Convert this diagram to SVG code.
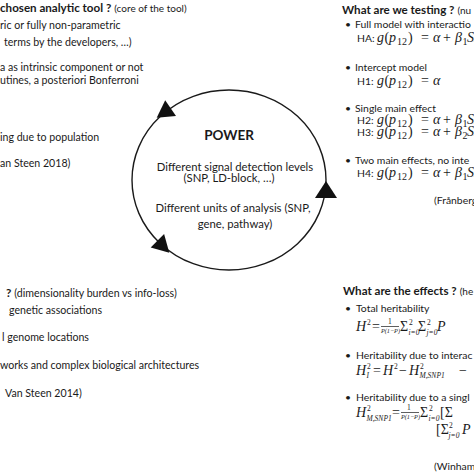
<svg xmlns="http://www.w3.org/2000/svg" width="474" height="474" viewBox="0 0 474 474">
<style>
text{fill:#1a1a1a}
.t{font-family:Lato,"Liberation Sans",sans-serif;font-size:10.6px}
.r{font-family:Lato,"Liberation Sans",sans-serif;font-size:10.4px}
.p{font-family:Lato,"Liberation Sans",sans-serif;font-size:11.3px}
.s{font-family:Lato,"Liberation Sans",sans-serif;font-size:10px}
.b{font-family:Lato,"Liberation Sans",sans-serif;font-size:11.6px;font-weight:bold}
.pw{font-family:Lato,"Liberation Sans",sans-serif;font-size:13.5px;font-weight:bold}
.c{text-anchor:middle}
.mi{font-family:"Liberation Serif",serif;font-style:italic;font-size:14px}
.mu{font-family:"Liberation Serif",serif;font-size:14px}
.ms{font-family:"Liberation Serif",serif;font-size:10px}
.mt{font-family:"Liberation Serif",serif;font-style:italic;font-size:7.5px}
.fr{font-family:"Liberation Serif",serif;font-size:7.5px}
.fd{font-family:"Liberation Serif",serif;font-style:italic;font-size:6.2px}
.ln{stroke:#1a1a1a;stroke-width:1.4;fill:none}
.ah{fill:#111;stroke:none}
.bar{stroke:#1a1a1a;stroke-width:0.7}
</style>
<rect width="474" height="474" fill="#fff"/>

<g id="connectors">
<ellipse class="ln" cx="229" cy="180" rx="97" ry="90"/>
<polygon class="ah" points="156.7,117.8 165.2,100.3 176,115.9"/>
<polygon class="ah" points="169.3,252.8 150.7,247.4 164.1,234"/>
<polygon class="ah" points="326,181 315,198 337,198"/>
</g>

<g id="node-tool">
<text x="0" y="12"><tspan class="b">chosen analytic tool ?</tspan><tspan class="s" dx="3">(core of the tool)</tspan></text>
<text class="t" x="0" y="28.5">ric or fully non-parametric</text>
<text class="t" x="4" y="45.5">terms by the developers, …)</text>
<text class="t" x="0" y="70.5">a as intrinsic component or not</text>
<text class="t" x="0" y="83.5">utines, a posteriori Bonferroni</text>
<text class="t" x="0" y="140.5">ing due to population</text>
<text class="t" x="0" y="166.5">an Steen 2018)</text>
</g>

<g id="node-power">
<text class="pw c" x="229" y="140">POWER</text>
<text class="p c" x="235" y="170.5">Different signal detection levels</text>
<text class="p c" x="229" y="181.5">(SNP, LD-block, …)</text>
<text class="p c" x="233" y="211.5">Different units of analysis (SNP,</text>
<text class="p c" x="235" y="227.5">gene, pathway)</text>
</g>

<g id="node-testing">
<text x="342" y="14"><tspan class="b">What are we testing ?</tspan><tspan class="s" dx="3">(nu</tspan></text>
<text class="r" x="345" y="28">•</text><text class="r" x="355" y="28">Full model with interactio</text>
<text class="r" x="357" y="41.5">HA:</text>
<text class="mi" x="377" y="41.5">g</text><text class="mu" x="384.5" y="41.5">(</text><text class="mi" x="389" y="41.5">p</text><text class="ms" x="397" y="44.5">12</text><text class="mu" x="408" y="41.5">)</text><text class="mu" x="421" y="41.5">=</text><text class="mi" x="433" y="41.5">α</text><text class="mu" x="443" y="41.5">+</text><text class="mi" x="455" y="41.5">β</text><text class="ms" x="462.5" y="44.5">1</text><text class="mi" x="467" y="41.5">SN</text>

<text class="r" x="345" y="71">•</text><text class="r" x="355" y="71">Intercept model</text>
<text class="r" x="357" y="84.5">H1:</text>
<text class="mi" x="377" y="84.5">g</text><text class="mu" x="384.5" y="84.5">(</text><text class="mi" x="389" y="84.5">p</text><text class="ms" x="397" y="87.5">12</text><text class="mu" x="408" y="84.5">)</text><text class="mu" x="421" y="84.5">=</text><text class="mi" x="433" y="84.5">α</text>

<text class="r" x="345" y="111.5">•</text><text class="r" x="355" y="111.5">Single main effect</text>
<text class="r" x="357" y="123.5">H2:</text>
<text class="mi" x="377" y="123.5">g</text><text class="mu" x="384.5" y="123.5">(</text><text class="mi" x="389" y="123.5">p</text><text class="ms" x="397" y="126.5">12</text><text class="mu" x="408" y="123.5">)</text><text class="mu" x="421" y="123.5">=</text><text class="mi" x="433" y="123.5">α</text><text class="mu" x="443" y="123.5">+</text><text class="mi" x="455" y="123.5">β</text><text class="ms" x="462.5" y="126.5">1</text><text class="mi" x="467" y="123.5">SN</text>
<text class="r" x="357" y="135.5">H3:</text>
<text class="mi" x="377" y="135.5">g</text><text class="mu" x="384.5" y="135.5">(</text><text class="mi" x="389" y="135.5">p</text><text class="ms" x="397" y="138.5">12</text><text class="mu" x="408" y="135.5">)</text><text class="mu" x="421" y="135.5">=</text><text class="mi" x="433" y="135.5">α</text><text class="mu" x="443" y="135.5">+</text><text class="mi" x="455" y="135.5">β</text><text class="ms" x="462.5" y="138.5">2</text><text class="mi" x="467" y="135.5">SN</text>

<text class="r" x="345" y="164">•</text><text class="r" x="355" y="164">Two main effects, no inte</text>
<text class="r" x="357" y="177">H4:</text>
<text class="mi" x="377" y="177">g</text><text class="mu" x="384.5" y="177">(</text><text class="mi" x="389" y="177">p</text><text class="ms" x="397" y="180">12</text><text class="mu" x="408" y="177">)</text><text class="mu" x="421" y="177">=</text><text class="mi" x="433" y="177">α</text><text class="mu" x="443" y="177">+</text><text class="mi" x="455" y="177">β</text><text class="ms" x="462.5" y="180">1</text><text class="mi" x="467" y="177">SN</text>
<text class="r" x="434" y="203.5">(Frånberg</text>
</g>

<g id="node-dimension">
<text x="6" y="297"><tspan class="b">?</tspan><tspan class="t" dx="3">(dimensionality burden vs info-loss)</tspan></text>
<text class="t" x="9" y="313.5">genetic associations</text>
<text class="t" x="2" y="340.5">l genome locations</text>
<text class="t" x="0" y="368.5">works and complex biological architectures</text>
<text class="t" x="5" y="396.5">Van Steen 2014)</text>
</g>

<g id="node-effects">
<text x="343" y="295"><tspan class="b">What are the effects ?</tspan><tspan class="s" dx="3">(he</tspan></text>
<text class="r" x="345" y="312">•</text><text class="r" x="356" y="312">Total heritability</text>
<text class="mi" x="356" y="331">H</text><text class="fr" x="367" y="325">2</text><text class="mu" x="372" y="331">=</text>
<text class="fr" x="388" y="324">1</text><line class="bar" x1="381" y1="326.5" x2="399" y2="326.5"/><text class="fd" x="381" y="332.5">P(1−P)</text>
<text class="mu" x="400" y="331">Σ</text><text class="fr" x="409" y="325">2</text><text class="mt" x="408.5" y="334.5">i=0</text>
<text class="mu" x="418" y="331">Σ</text><text class="fr" x="427" y="325">2</text><text class="mt" x="426.5" y="334.5">j=0</text>
<text class="mi" x="437" y="331">P</text>

<text class="r" x="345" y="359">•</text><text class="r" x="356" y="359">Heritability due to interac</text>
<text class="mi" x="356" y="374.5">H</text><text class="fr" x="367" y="368.5">2</text><text class="mt" x="366.5" y="378">I</text>
<text class="mu" x="373" y="374.5">=</text>
<text class="mi" x="383" y="374.5">H</text><text class="fr" x="394" y="368.5">2</text>
<text class="mu" x="399" y="374.5">−</text>
<text class="mi" x="409" y="374.5">H</text><text class="fr" x="420" y="368.5">2</text><text class="mt" x="419.5" y="378">M,SNP1</text>
<text class="mu" x="459" y="374.5">−</text>

<text class="r" x="345" y="401">•</text><text class="r" x="356" y="401">Heritability due to a singl</text>
<text class="mi" x="356" y="417">H</text><text class="fr" x="367" y="411">2</text><text class="mt" x="366.5" y="420.5">M,SNP1</text>
<text class="mu" x="392" y="417">=</text>
<text class="fr" x="407" y="410">1</text><line class="bar" x1="401" y1="412.5" x2="419" y2="412.5"/><text class="fd" x="401" y="418.5">P(1−P)</text>
<text class="mu" x="420" y="417">Σ</text><text class="fr" x="429" y="411">2</text><text class="mt" x="428.5" y="420.5">i=0</text>
<text class="mu" x="440" y="417">[Σ</text>
<text class="mu" x="436" y="434">[Σ</text><text class="fr" x="449" y="428">2</text><text class="mt" x="448.5" y="437.5">j=0</text>
<text class="mi" x="462" y="434">P</text>
<text class="r" x="434" y="469.5">(Winham</text>
</g>
</svg>
